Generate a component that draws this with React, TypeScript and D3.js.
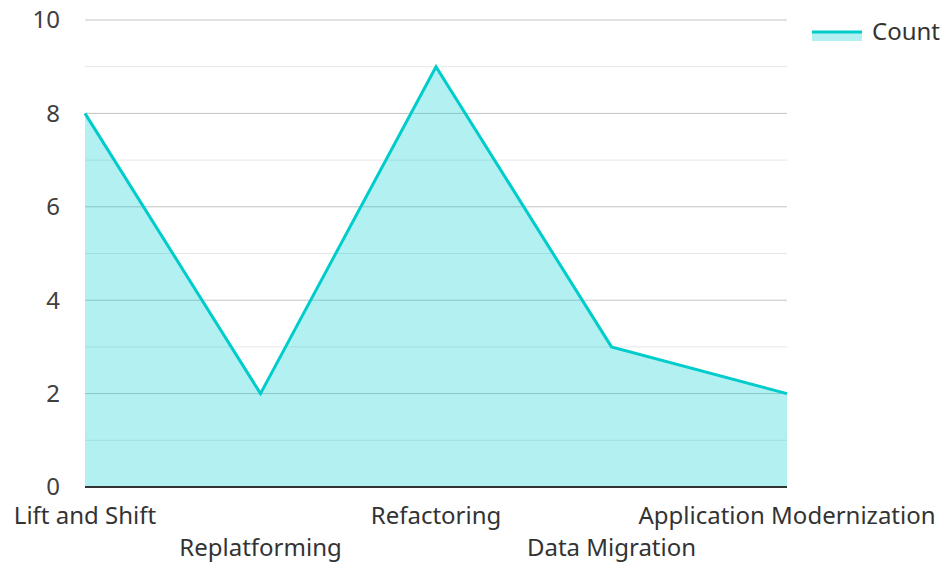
import React from "react";
import * as d3 from "d3";

const categories = ["Lift and Shift", "Replatforming", "Refactoring", "Data Migration", "Application Modernization"];
const counts = [8, 2, 9, 3, 2];
const majorTicks = [0, 2, 4, 6, 8, 10];
const minorTicks = [1, 3, 5, 7, 9];
const seriesName = "Count";

const W = 944, H = 563;
const M = { left: 85, right: 157, top: 20, bottom: 76 };
const FONT = "'Noto Sans', 'Open Sans', sans-serif";

export default function App() {
  const x = d3.scalePoint<string>().domain(categories).range([M.left, W - M.right]);
  const y = d3.scaleLinear().domain([0, 10]).range([H - M.bottom, M.top]);
  const pts = categories.map((c, i) => [x(c)!, y(counts[i])] as [number, number]);
  const line = d3.line()(pts)!;
  const area = d3.area<[number, number]>().x(d => d[0]).y0(y(0)).y1(d => d[1])(pts)!;
  return (
    <svg width={W} height={H} style={{ position: "absolute", left: 0, top: 0 }} fontFamily={FONT}>
      {minorTicks.map(t => (
        <line key={"m" + t} x1={M.left} x2={W - M.right} y1={y(t)} y2={y(t)} stroke="#e6e6e6" strokeWidth={1} />
      ))}
      {majorTicks.filter(t => t > 0).map(t => (
        <line key={"M" + t} x1={M.left} x2={W - M.right} y1={y(t)} y2={y(t)} stroke="#c4c4c4" strokeWidth={1} />
      ))}
      <path d={area} fill="rgba(0,206,209,0.3)" />
      <path d={line} fill="none" stroke="#00cccc" strokeWidth={3} strokeLinejoin="miter" />
      <line x1={M.left} x2={W - M.right} y1={y(0)} y2={y(0)} stroke="#333" strokeWidth={2} />
      {majorTicks.map(t => (
        <text key={"t" + t} x={60} y={y(t)} dy="0.35em" textAnchor="end" fontSize={24} fill="#404040">{t}</text>
      ))}
      {categories.map((c, i) => (
        <text key={c} x={x(c)!} y={i % 2 === 0 ? 524 : 556} textAnchor="middle" fontSize={24} fill="#333">{c}</text>
      ))}
      <rect x={812} y={31} width={50} height={10} fill="rgba(0,206,209,0.3)" />
      <line x1={812} x2={862} y1={32} y2={32} stroke="#00cccc" strokeWidth={3} />
      <text x={872} y={40} fontSize={24} fill="#333">{seriesName}</text>
    </svg>
  );
}
